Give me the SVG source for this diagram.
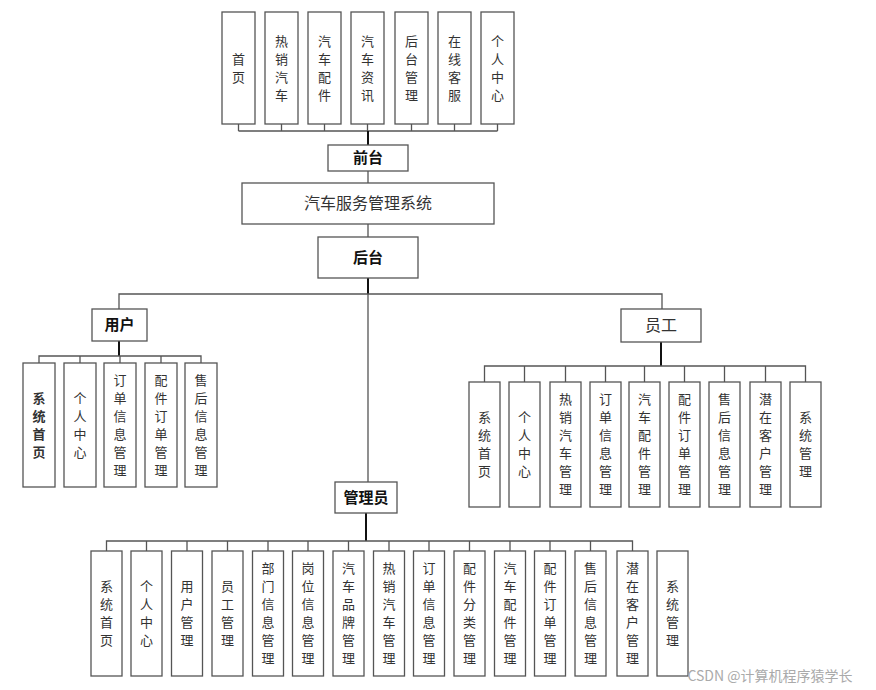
<svg xmlns="http://www.w3.org/2000/svg" width="876" height="690" viewBox="0 0 876 690">
<style>
rect{fill:#fff;stroke:#555;stroke-width:1.3}
text{font-family:"Noto Sans CJK SC","Liberation Sans",sans-serif;font-size:13px;fill:#333;text-anchor:middle}
.b{font-size:15px;font-weight:bold;fill:#111}
.m{font-size:16px}
#connectors path{fill:none;stroke:#555;stroke-width:1.3}
#connectors .k{stroke:#111;stroke-width:2}
</style>
<rect width="876" height="690" style="fill:#fff;stroke:none"/>
<g id="connectors">
<path d="M238.5 124V131M281.5 124V131M324.5 124V131M367.5 124V131M411.5 124V131M454.5 124V131M497.5 124V131M238.5 131H497.5"/>
<path class="k" d="M368 131V145"/>
<path d="M368 171V183M368 224V237"/>
<path class="k" d="M368 278V294"/>
<path d="M119 309V294H662V309M368 294V482"/>
<path class="k" d="M119 341V356M661 342V366M366 513V541"/>
<path d="M39 363V356H201V363M80 356V363M120 356V363M161 356V363"/>
<path d="M484.5 382V366H805.5V382M524.5 366V382M565.5 366V382M605.5 366V382M644.5 366V382M684.5 366V382M724.5 366V382M765.5 366V382"/>
<path d="M106.5 551V541H632.5V551M146.5 541V551M187 541V551M227.5 541V551M268 541V551M308 541V551M348.5 541V551M389 541V551M429 541V551M469.5 541V551M510 541V551M550 541V551M590.5 541V551"/>
</g>
<g id="top">
<g id="n-shouye"><rect x="222" y="12" width="33" height="112"/><text x="238.5" y="63.5">首<tspan x="238.5" dy="18">页</tspan></text></g>
<g id="n-rexiao"><rect x="265" y="12" width="33" height="112"/><text x="281.5" y="45.5">热<tspan x="281.5" dy="18">销</tspan><tspan x="281.5" dy="18">汽</tspan><tspan x="281.5" dy="18">车</tspan></text></g>
<g id="n-peijian"><rect x="308" y="12" width="33" height="112"/><text x="324.5" y="45.5">汽<tspan x="324.5" dy="18">车</tspan><tspan x="324.5" dy="18">配</tspan><tspan x="324.5" dy="18">件</tspan></text></g>
<g id="n-zixun"><rect x="351" y="12" width="33" height="112"/><text x="367.5" y="45.5">汽<tspan x="367.5" dy="18">车</tspan><tspan x="367.5" dy="18">资</tspan><tspan x="367.5" dy="18">讯</tspan></text></g>
<g id="n-houtaiguanli"><rect x="395" y="12" width="33" height="112"/><text x="411.5" y="45.5">后<tspan x="411.5" dy="18">台</tspan><tspan x="411.5" dy="18">管</tspan><tspan x="411.5" dy="18">理</tspan></text></g>
<g id="n-kefu"><rect x="438" y="12" width="33" height="112"/><text x="454.5" y="45.5">在<tspan x="454.5" dy="18">线</tspan><tspan x="454.5" dy="18">客</tspan><tspan x="454.5" dy="18">服</tspan></text></g>
<g id="n-geren"><rect x="481" y="12" width="33" height="112"/><text x="497.5" y="45.5">个<tspan x="497.5" dy="18">人</tspan><tspan x="497.5" dy="18">中</tspan><tspan x="497.5" dy="18">心</tspan></text></g>
</g>
<g id="qiantai"><rect x="328" y="145" width="80" height="26"/><text class="b" x="368" y="163">前台</text></g>
<g id="system"><rect x="242" y="183" width="252" height="41"/><text class="m" x="368" y="209">汽车服务管理系统</text></g>
<g id="houtai"><rect x="318" y="237" width="100" height="41"/><text class="b" x="368" y="263">后台</text></g>
<g id="yonghu"><rect x="92" y="309" width="55" height="32"/><text class="b" x="119.5" y="330">用户</text></g>
<g id="yuangong"><rect x="621" y="309" width="80" height="33"/><text class="m" x="661" y="331">员工</text></g>
<g id="guanliyuan"><rect x="335" y="482" width="62" height="31"/><text class="b" x="366" y="503">管理员</text></g>
<g id="user-items">
<g id="u1"><rect x="23" y="363" width="32" height="124"/><text x="39" y="402.5" font-weight="bold">系<tspan x="39" dy="18">统</tspan><tspan x="39" dy="18">首</tspan><tspan x="39" dy="18">页</tspan></text></g>
<g id="u2"><rect x="64" y="363" width="32" height="124"/><text x="80" y="402.5">个<tspan x="80" dy="18">人</tspan><tspan x="80" dy="18">中</tspan><tspan x="80" dy="18">心</tspan></text></g>
<g id="u3"><rect x="104" y="363" width="32" height="124"/><text x="120" y="384.5">订<tspan x="120" dy="18">单</tspan><tspan x="120" dy="18">信</tspan><tspan x="120" dy="18">息</tspan><tspan x="120" dy="18">管</tspan><tspan x="120" dy="18">理</tspan></text></g>
<g id="u4"><rect x="145" y="363" width="32" height="124"/><text x="161" y="384.5">配<tspan x="161" dy="18">件</tspan><tspan x="161" dy="18">订</tspan><tspan x="161" dy="18">单</tspan><tspan x="161" dy="18">管</tspan><tspan x="161" dy="18">理</tspan></text></g>
<g id="u5"><rect x="185" y="363" width="32" height="124"/><text x="201" y="384.5">售<tspan x="201" dy="18">后</tspan><tspan x="201" dy="18">信</tspan><tspan x="201" dy="18">息</tspan><tspan x="201" dy="18">管</tspan><tspan x="201" dy="18">理</tspan></text></g>
</g>
<g id="staff-items">
<g id="s1"><rect x="469" y="382" width="31" height="125"/><text x="484.5" y="421.5">系<tspan x="484.5" dy="18">统</tspan><tspan x="484.5" dy="18">首</tspan><tspan x="484.5" dy="18">页</tspan></text></g>
<g id="s2"><rect x="509" y="382" width="31" height="125"/><text x="524.5" y="421.5">个<tspan x="524.5" dy="18">人</tspan><tspan x="524.5" dy="18">中</tspan><tspan x="524.5" dy="18">心</tspan></text></g>
<g id="s3"><rect x="550" y="382" width="31" height="125"/><text x="565.5" y="403.5">热<tspan x="565.5" dy="18">销</tspan><tspan x="565.5" dy="18">汽</tspan><tspan x="565.5" dy="18">车</tspan><tspan x="565.5" dy="18">管</tspan><tspan x="565.5" dy="18">理</tspan></text></g>
<g id="s4"><rect x="590" y="382" width="31" height="125"/><text x="605.5" y="403.5">订<tspan x="605.5" dy="18">单</tspan><tspan x="605.5" dy="18">信</tspan><tspan x="605.5" dy="18">息</tspan><tspan x="605.5" dy="18">管</tspan><tspan x="605.5" dy="18">理</tspan></text></g>
<g id="s5"><rect x="629" y="382" width="31" height="125"/><text x="644.5" y="403.5">汽<tspan x="644.5" dy="18">车</tspan><tspan x="644.5" dy="18">配</tspan><tspan x="644.5" dy="18">件</tspan><tspan x="644.5" dy="18">管</tspan><tspan x="644.5" dy="18">理</tspan></text></g>
<g id="s6"><rect x="669" y="382" width="31" height="125"/><text x="684.5" y="403.5">配<tspan x="684.5" dy="18">件</tspan><tspan x="684.5" dy="18">订</tspan><tspan x="684.5" dy="18">单</tspan><tspan x="684.5" dy="18">管</tspan><tspan x="684.5" dy="18">理</tspan></text></g>
<g id="s7"><rect x="709" y="382" width="31" height="125"/><text x="724.5" y="403.5">售<tspan x="724.5" dy="18">后</tspan><tspan x="724.5" dy="18">信</tspan><tspan x="724.5" dy="18">息</tspan><tspan x="724.5" dy="18">管</tspan><tspan x="724.5" dy="18">理</tspan></text></g>
<g id="s8"><rect x="750" y="382" width="31" height="125"/><text x="765.5" y="403.5">潜<tspan x="765.5" dy="18">在</tspan><tspan x="765.5" dy="18">客</tspan><tspan x="765.5" dy="18">户</tspan><tspan x="765.5" dy="18">管</tspan><tspan x="765.5" dy="18">理</tspan></text></g>
<g id="s9"><rect x="790" y="382" width="31" height="125"/><text x="805.5" y="421.5">系<tspan x="805.5" dy="18">统</tspan><tspan x="805.5" dy="18">管</tspan><tspan x="805.5" dy="18">理</tspan></text></g>
</g>
<g id="admin-items">
<g id="a1"><rect x="91" y="551" width="31" height="125"/><text x="106.5" y="590.5">系<tspan x="106.5" dy="18">统</tspan><tspan x="106.5" dy="18">首</tspan><tspan x="106.5" dy="18">页</tspan></text></g>
<g id="a2"><rect x="131" y="551" width="31" height="125"/><text x="146.5" y="590.5">个<tspan x="146.5" dy="18">人</tspan><tspan x="146.5" dy="18">中</tspan><tspan x="146.5" dy="18">心</tspan></text></g>
<g id="a3"><rect x="171.5" y="551" width="31" height="125"/><text x="187" y="590.5">用<tspan x="187" dy="18">户</tspan><tspan x="187" dy="18">管</tspan><tspan x="187" dy="18">理</tspan></text></g>
<g id="a4"><rect x="212" y="551" width="31" height="125"/><text x="227.5" y="590.5">员<tspan x="227.5" dy="18">工</tspan><tspan x="227.5" dy="18">管</tspan><tspan x="227.5" dy="18">理</tspan></text></g>
<g id="a5"><rect x="252.5" y="551" width="31" height="125"/><text x="268" y="572.5">部<tspan x="268" dy="18">门</tspan><tspan x="268" dy="18">信</tspan><tspan x="268" dy="18">息</tspan><tspan x="268" dy="18">管</tspan><tspan x="268" dy="18">理</tspan></text></g>
<g id="a6"><rect x="292.5" y="551" width="31" height="125"/><text x="308" y="572.5">岗<tspan x="308" dy="18">位</tspan><tspan x="308" dy="18">信</tspan><tspan x="308" dy="18">息</tspan><tspan x="308" dy="18">管</tspan><tspan x="308" dy="18">理</tspan></text></g>
<g id="a7"><rect x="333" y="551" width="31" height="125"/><text x="348.5" y="572.5">汽<tspan x="348.5" dy="18">车</tspan><tspan x="348.5" dy="18">品</tspan><tspan x="348.5" dy="18">牌</tspan><tspan x="348.5" dy="18">管</tspan><tspan x="348.5" dy="18">理</tspan></text></g>
<g id="a8"><rect x="373.5" y="551" width="31" height="125"/><text x="389" y="572.5">热<tspan x="389" dy="18">销</tspan><tspan x="389" dy="18">汽</tspan><tspan x="389" dy="18">车</tspan><tspan x="389" dy="18">管</tspan><tspan x="389" dy="18">理</tspan></text></g>
<g id="a9"><rect x="413.5" y="551" width="31" height="125"/><text x="429" y="572.5">订<tspan x="429" dy="18">单</tspan><tspan x="429" dy="18">信</tspan><tspan x="429" dy="18">息</tspan><tspan x="429" dy="18">管</tspan><tspan x="429" dy="18">理</tspan></text></g>
<g id="a10"><rect x="454" y="551" width="31" height="125"/><text x="469.5" y="572.5">配<tspan x="469.5" dy="18">件</tspan><tspan x="469.5" dy="18">分</tspan><tspan x="469.5" dy="18">类</tspan><tspan x="469.5" dy="18">管</tspan><tspan x="469.5" dy="18">理</tspan></text></g>
<g id="a11"><rect x="494.5" y="551" width="31" height="125"/><text x="510" y="572.5">汽<tspan x="510" dy="18">车</tspan><tspan x="510" dy="18">配</tspan><tspan x="510" dy="18">件</tspan><tspan x="510" dy="18">管</tspan><tspan x="510" dy="18">理</tspan></text></g>
<g id="a12"><rect x="534.5" y="551" width="31" height="125"/><text x="550" y="572.5">配<tspan x="550" dy="18">件</tspan><tspan x="550" dy="18">订</tspan><tspan x="550" dy="18">单</tspan><tspan x="550" dy="18">管</tspan><tspan x="550" dy="18">理</tspan></text></g>
<g id="a13"><rect x="575" y="551" width="31" height="125"/><text x="590.5" y="572.5">售<tspan x="590.5" dy="18">后</tspan><tspan x="590.5" dy="18">信</tspan><tspan x="590.5" dy="18">息</tspan><tspan x="590.5" dy="18">管</tspan><tspan x="590.5" dy="18">理</tspan></text></g>
<g id="a14"><rect x="617" y="551" width="31" height="125"/><text x="632.5" y="572.5">潜<tspan x="632.5" dy="18">在</tspan><tspan x="632.5" dy="18">客</tspan><tspan x="632.5" dy="18">户</tspan><tspan x="632.5" dy="18">管</tspan><tspan x="632.5" dy="18">理</tspan></text></g>
<g id="a15"><rect x="657" y="551" width="31" height="125"/><text x="672.5" y="590.5">系<tspan x="672.5" dy="18">统</tspan><tspan x="672.5" dy="18">管</tspan><tspan x="672.5" dy="18">理</tspan></text></g>
</g>
<text x="770" y="681" style="font-size:14px;fill:#aaa">CSDN @计算机程序猿学长</text>
</svg>
